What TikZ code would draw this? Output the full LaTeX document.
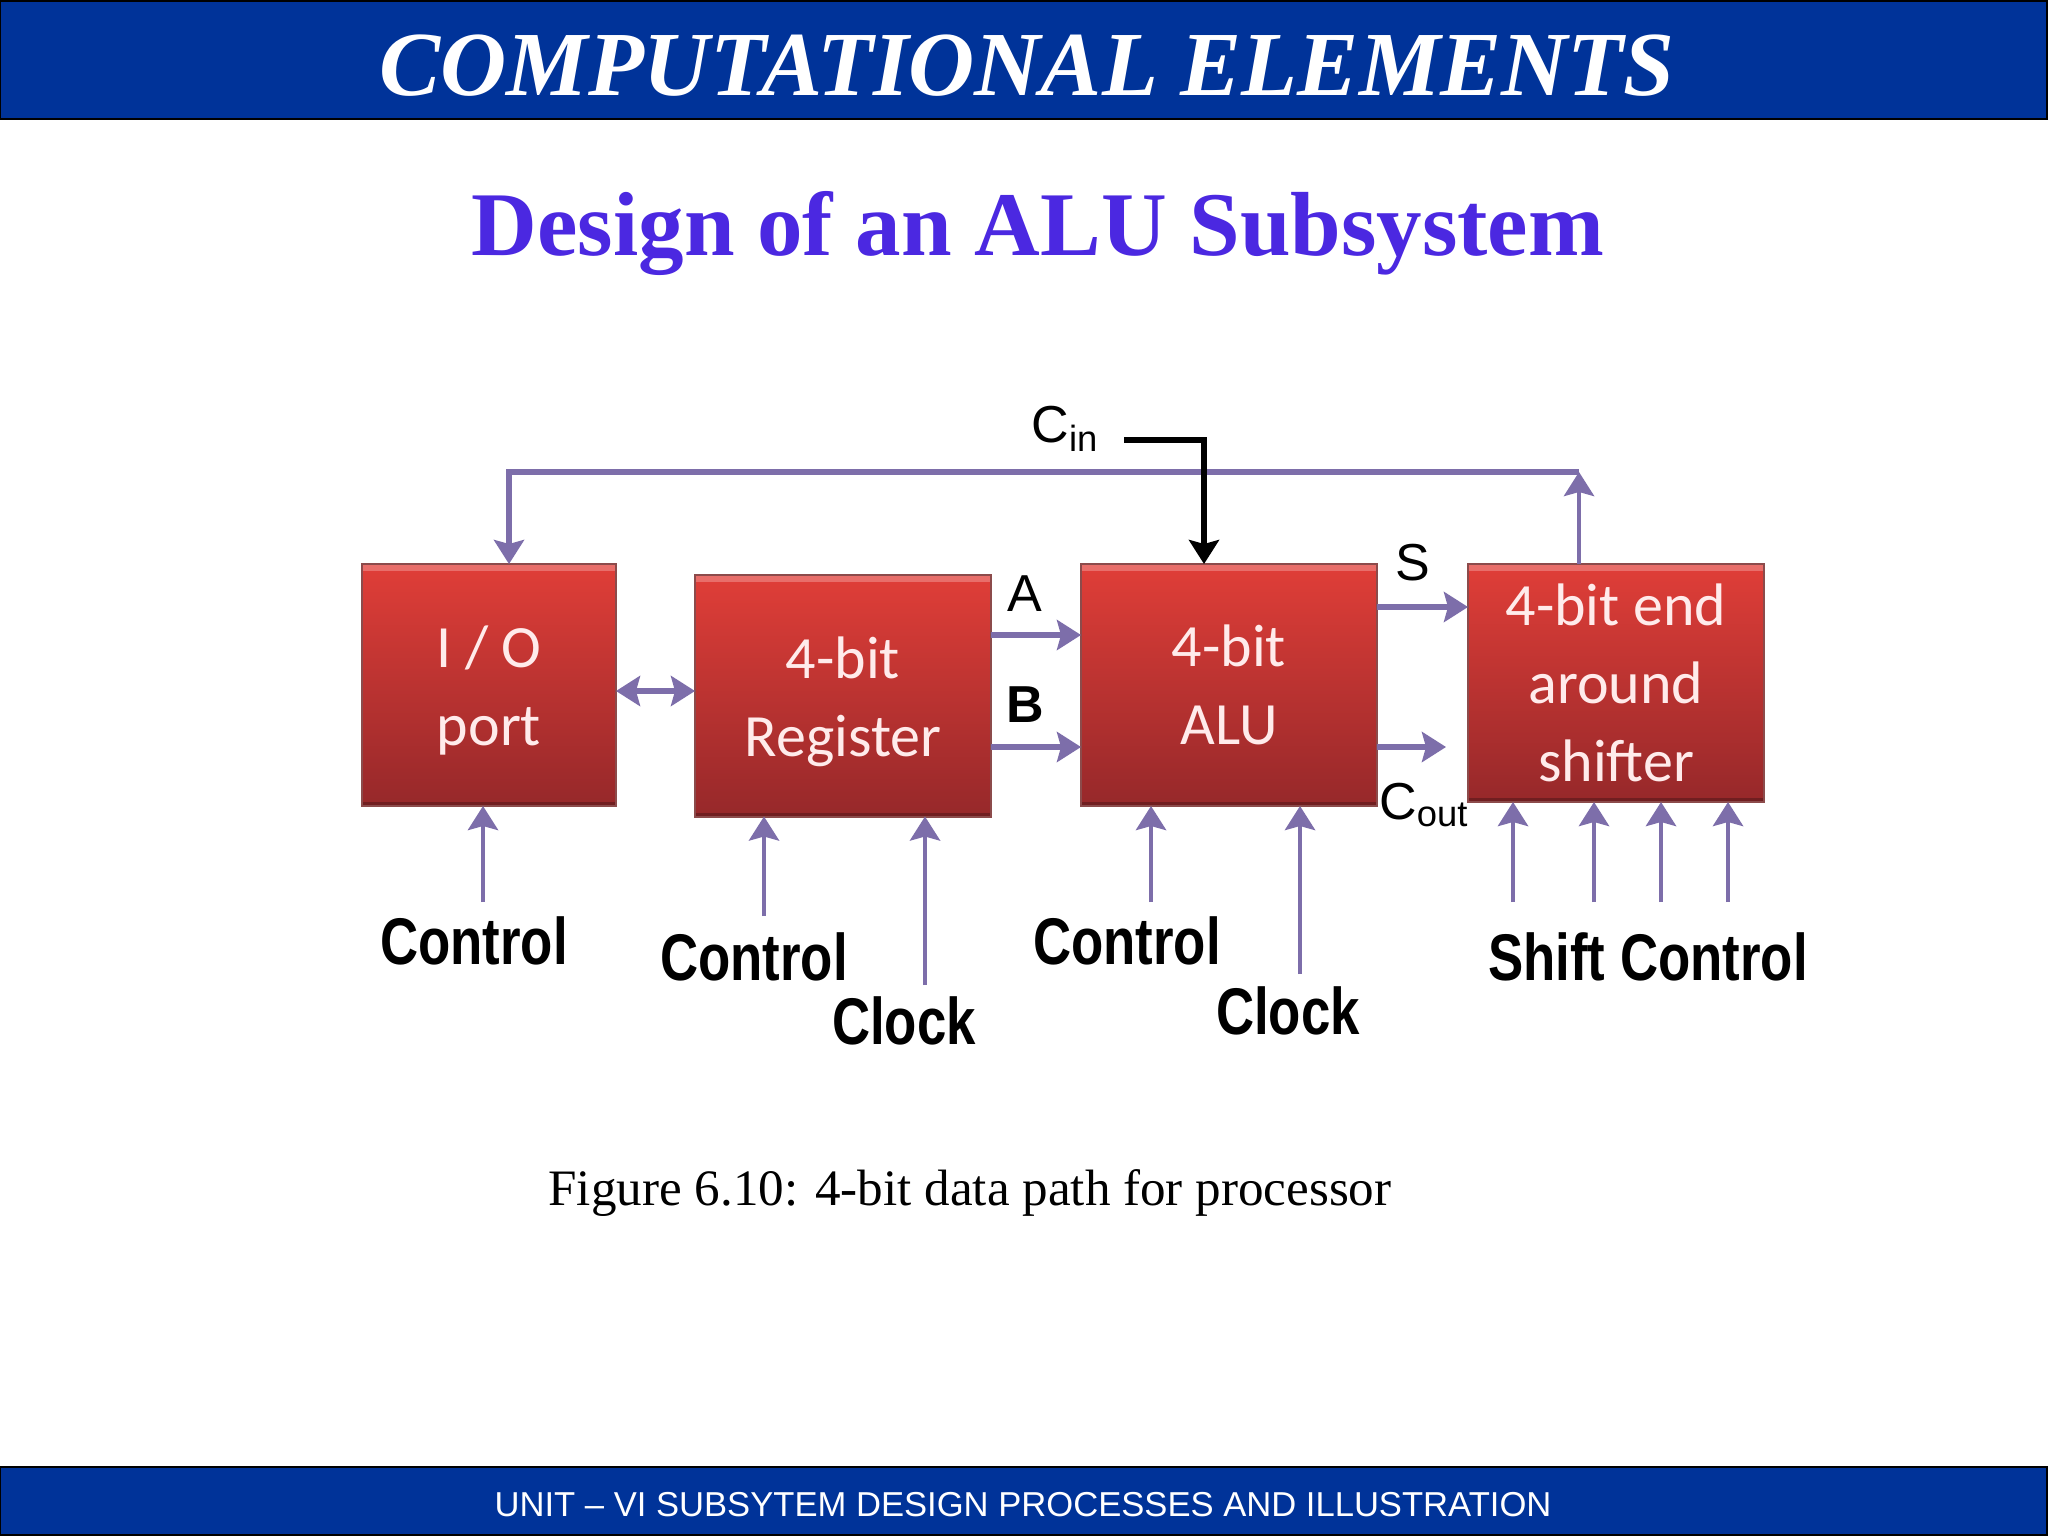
\documentclass[tikz,border=0pt]{standalone}
\usepackage{fontspec}
\usepackage{tikz}
\usetikzlibrary{arrows.meta,positioning}
\setmainfont{Liberation Serif}
\newfontfamily\boxfont{Carlito}
\newfontfamily\lblfont{Liberation Sans}[FakeStretch=0.8]
\newfontfamily\footfont{Liberation Sans}
\definecolor{barblue}{RGB}{0,51,153}
\definecolor{headviolet}{RGB}{75,40,225}
\definecolor{wirepurple}{RGB}{125,110,170}
\definecolor{boxtop}{RGB}{224,62,56}
\definecolor{boxbottom}{RGB}{150,40,42}
\definecolor{boxedge}{RGB}{140,75,75}
\begin{document}
\begin{tikzpicture}[x=0.5pt,y=-0.5pt,->,>={Stealth[length=12pt,width=15pt,inset=2pt]},
wire/.style={draw=wirepurple,line width=2.8pt},
bus/.style={draw=wirepurple,line width=3.4pt},
thin wire/.style={draw=wirepurple,line width=2.3pt},
box/.style={rectangle,draw=boxedge,line width=1pt,top color=boxtop,bottom color=boxbottom,
  minimum width=148pt,minimum height=121pt,outer sep=0pt,inner sep=0pt,align=center,
  text=white!92!red,font=\boxfont\fontsize{30}{39}\selectfont,
  path picture={
    \fill[boxtop!75!white] (path picture bounding box.north west) rectangle ([yshift=-3.5pt]path picture bounding box.north east);
    \fill[boxbottom!75!black] (path picture bounding box.south west) rectangle ([yshift=2pt]path picture bounding box.south east);}},
lbl/.style={font=\lblfont\bfseries\fontsize{33}{33}\selectfont,text=black,inner sep=0pt},
sym/.style={font=\footfont\fontsize{26}{26}\selectfont,text=black,inner sep=0pt}]
\useasboundingbox (0,0) rectangle (2048,1536);
\fill[white] (0,0) rectangle (2048,1536);
% bars
\draw[-,fill=barblue,draw=black,line width=1.2pt] (0,1) rectangle (2047,119);
\draw[-,fill=barblue,draw=black,line width=1.2pt] (0,1467) rectangle (2047,1535);
\node[anchor=base,text=white,font=\bfseries\itshape\fontsize{45.8}{46}\selectfont] (title) at (1027,96) {COMPUTATIONAL ELEMENTS};
\node[anchor=base,text=headviolet,font=\bfseries\fontsize{45.5}{46}\selectfont] (head) at (1038,255) {Design of an ALU Subsystem};
\node[anchor=base,font=\fontsize{25.55}{26}\selectfont] (caption) at (970,1205) {Figure 6.10: 4-bit data path for processor};
\node[anchor=base,text=white,font=\footfont\fontsize{17.3}{18}\selectfont] (foot) at (1023,1516) {UNIT – VI SUBSYTEM DESIGN PROCESSES AND ILLUSTRATION};
% blocks
\node[box,minimum width=127pt] (io) at (489,685) {\rule{0pt}{26pt}I / O\\port};
\node[box] (reg) [right=39.5pt of io,yshift=-5.25pt] {\rule{0pt}{27.5pt}4-bit\\Register};
\node[box] (alu) [right=45pt of reg,yshift=5.25pt] {4-bit\\ALU};
\node[box,minimum height=119pt] (shifter) [right=45.5pt of alu,yshift=1pt] {4-bit end\\around\\shifter};
% labels
\node[lbl] (ioctl) at (474,941) {Control};
\node[lbl] (regctl) at (754,957) {Control};
\node[lbl] (regclk) at (904,1021) {Clock};
\node[lbl] (aluctl) at (1127,941) {Control};
\node[lbl] (aluclk) at (1288,1011) {Clock};
\node[lbl] (shctl) at (1648,957) {Shift Control};
\node[sym] (a) at (1025,594) {A};
\node[sym,font=\footfont\bfseries\fontsize{26}{26}\selectfont] (b) at (1025,705) {B};
\node[sym] (s) at (1413,563) {S};
\node[sym] (cin) at (1065,429) {C\textsubscript{in}};
\node[sym] (cout) at (1424,805) {C\textsubscript{out}};
% free ends
\coordinate (busl) at (509,472);
\coordinate (busr) at (1579,472);
\coordinate (cinl) at (1124,440);
\coordinate (cinr) at (1204,440);
\coordinate (coutend) at (1446,747);
\coordinate (ioin) at (483,902);
\coordinate (regin) at (764,916);
\coordinate (regck) at (925,985);
\coordinate (aluin) at (1151,902);
\coordinate (aluck) at (1300,974);
% feedback and carry
\draw[bus] (busr) -- (busl) -- (busl |- io.north);
\draw[thin wire] (busr |- shifter.north) -- (busr);
\draw[line width=2.6pt,draw=black] (cinl) -- (cinr) -- (cinr |- alu.north);
% data
\path (io.east |- 0,691) edge[wire,<->] (reg.west |- 0,691);
\path (reg.east |- 0,635) edge[bus] (alu.west |- 0,635)
      (reg.east |- 0,747) edge[bus] (alu.west |- 0,747)
      (alu.east |- 0,607) edge[bus] (shifter.west |- 0,607)
      (alu.east |- coutend) edge[bus] (coutend);
% inputs from below
\path (ioin) edge[thin wire] (ioin |- io.south)
      (regin) edge[thin wire] (regin |- reg.south)
      (regck) edge[thin wire] (regck |- reg.south)
      (aluin) edge[thin wire] (aluin |- alu.south)
      (aluck) edge[thin wire] (aluck |- alu.south);
\foreach \n/\x in {a/1513,b/1594,c/1661,d/1728} {
  \coordinate (sh\n) at (\x,902);
  \path (sh\n) edge[thin wire] (sh\n |- shifter.south);
}
\end{tikzpicture}
\end{document}
